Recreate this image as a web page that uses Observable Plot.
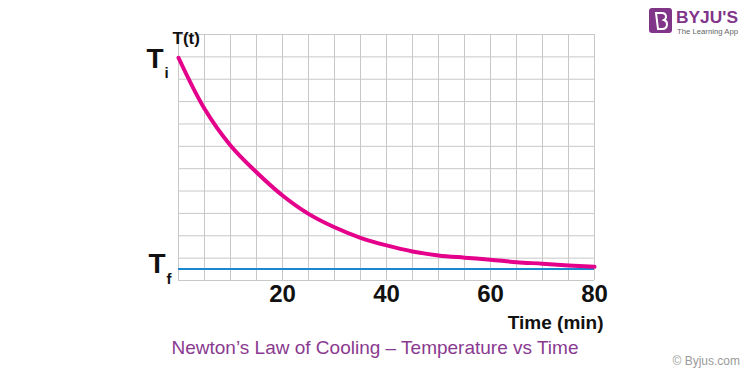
<!DOCTYPE html>
<html>
<head>
<meta charset="utf-8">
<script src="https://cdn.jsdelivr.net/npm/d3@7"></script>
<script src="https://cdn.jsdelivr.net/npm/@observablehq/plot@0.6"></script>
<style>
  html, body { margin: 0; padding: 0; background: #fff; }
  #wrap { position: relative; width: 750px; height: 376px; overflow: hidden; font-family: "Liberation Sans", Arial, sans-serif; }
  #caption { position: absolute; left: 0; width: 750px; top: 337px; text-align: center; font-size: 19px; color: #8a3a90; }
  #copy { position: absolute; right: 10px; top: 354px; font-size: 12px; color: #9a9a9a; }
  #logo { position: absolute; left: 649px; top: 8px; }
</style>
</head>
<body>
<div id="wrap">
  <div id="chart"></div>
  <div id="logo">
    <svg width="95" height="28" xmlns="http://www.w3.org/2000/svg">
      <rect x="0" y="0" width="23" height="25" rx="3" fill="#813588"/>
      <path d="M7 5 L13 5 Q17 5 17 9 Q17 11 15 12 Q18 13 18 16 Q18 21 13 21 L9 21 Z" fill="none" stroke="#fff" stroke-width="2"/>
      <text x="27" y="14.5" font-family="Liberation Sans, Arial, sans-serif" font-weight="bold" font-size="17" fill="#813588" textLength="62" lengthAdjust="spacingAndGlyphs">BYJU'S</text>
      <text x="28" y="25.5" font-family="Liberation Sans, Arial, sans-serif" font-size="8" fill="#666" textLength="61" lengthAdjust="spacingAndGlyphs">The Learning App</text>
    </svg>
  </div>
  <div id="caption">Newton’s Law of Cooling – Temperature vs Time</div>
  <div id="copy">© Byjus.com</div>
</div>
<script>
// Data (temperature in grid units, time in minutes)
const times = [0, 5, 10, 15, 20, 25, 30, 35, 40, 45, 50, 55, 60, 65, 70, 75, 80];
const temps = [9.96, 7.68, 6.04, 4.84, 3.80, 2.98, 2.38, 1.91, 1.57, 1.30, 1.12, 1.02, 0.93, 0.82, 0.75, 0.67, 0.61];
const finalTemp = 0.51;   // T_f
const initialTemp = 9.96; // T_i
const xTickLabels = [20, 40, 60, 80];
const xGrid = [0, 5, 10, 15, 20, 25, 30, 35, 40, 45, 50, 55, 60, 65, 70, 75, 80];
const yGrid = [0, 1, 2, 3, 4, 5, 6, 7, 8, 9, 10, 11];

const curve = times.map((t, i) => ({t, T: temps[i]}));
const font = "Liberation Sans, Arial, sans-serif";

const chart = Plot.plot({
  width: 750,
  height: 376,
  marginLeft: 178,
  marginRight: 156,
  marginTop: 34,
  marginBottom: 96,
  style: {fontFamily: font, background: "transparent"},
  x: {domain: [0, 80]},
  y: {domain: [0, 11]},
  marks: [
    Plot.ruleX(xGrid, {x: d => d, y1: 0, y2: 11, stroke: "#c8c8c8", strokeWidth: 1}),
    Plot.ruleY(yGrid, {y: d => d, x1: 0, x2: 80, stroke: "#c8c8c8", strokeWidth: 1}),
    Plot.ruleY([finalTemp], {x1: 0, x2: 80, stroke: "#1b87d0", strokeWidth: 2}),
    Plot.line(curve, {x: "t", y: "T", stroke: "#e4008a", strokeWidth: 4, curve: "catmull-rom"}),
    Plot.axisX({ticks: xTickLabels, tickSize: 0, tickPadding: 4, fontSize: 24, fontWeight: "bold", fill: "#111", label: null}),
    Plot.axisY({ticks: [], label: null}),
    // T_i label
    Plot.text([initialTemp], {x: 0, y: d => d, text: () => "T", textAnchor: "end", dx: -15, dy: 1, fontSize: 28, fontWeight: "bold", fill: "#111"}),
    Plot.text([initialTemp], {x: 0, y: d => d, text: () => "i", textAnchor: "start", dx: -14, dy: 15, fontSize: 15, fontWeight: "bold", fill: "#111"}),
    // T_f label
    Plot.text([finalTemp], {x: 0, y: d => d, text: () => "T", textAnchor: "end", dx: -13, dy: -5, fontSize: 28, fontWeight: "bold", fill: "#111"}),
    Plot.text([finalTemp], {x: 0, y: d => d, text: () => "f", textAnchor: "start", dx: -12, dy: 10, fontSize: 15, fontWeight: "bold", fill: "#111"}),
    // axis titles
    Plot.text([11], {x: 0, y: d => d, text: () => "T(t)", textAnchor: "start", dx: -6, dy: 4, fontSize: 17, fontWeight: "bold", fill: "#111"}),
    Plot.text([0], {x: 80, y: d => d, text: () => "Time (min)", textAnchor: "end", dx: 9, dy: 42, fontSize: 19, fontWeight: "bold", fill: "#111"})
  ]
});
document.getElementById("chart").appendChild(chart);
</script>
</body>
</html>
